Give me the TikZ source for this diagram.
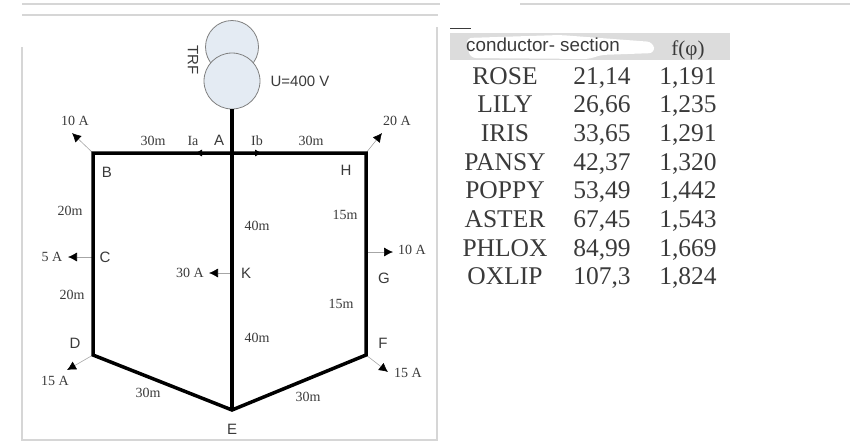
\documentclass[tikz,border=0pt]{standalone}
\usepackage{fontspec}
\setmainfont{Liberation Serif}
\setsansfont{Liberation Sans}
\usetikzlibrary{arrows.meta}
\definecolor{inkgrey}{HTML}{3A3A3A}
\definecolor{framegrey}{HTML}{D6D6D6}
\definecolor{bandgrey}{HTML}{DCDCDC}
\definecolor{trfblue}{HTML}{E4EBF3}
\tikzset{
    wire/.style={line width=3.5pt, black, line join=miter},
    load/.style={draw=gray!70, line width=.6pt, -{Latex[black,length=9pt,width=9pt]}},
    flow/.style={black, line width=.6pt, -{Latex[length=7pt,width=7pt]}},
    frameline/.style={framegrey, line width=1.2pt},
    trfcircle/.style={circle, draw=gray, line width=.8pt, fill=trfblue, minimum size=54pt, inner sep=0pt},
    pointlabel/.style={font=\sffamily\fontsize{15}{15}\selectfont, text=inkgrey, inner sep=0pt},
    lengthlabel/.style={font=\fontsize{14}{14}\selectfont, text=inkgrey, inner sep=0pt},
    rowlabel/.style={font=\fontsize{25.5}{25.5}\selectfont, text=inkgrey, inner sep=0pt, anchor=center, text height=16pt, text depth=0pt},
}
\begin{document}
\begin{tikzpicture}[x=1pt,y=1pt]
            \useasboundingbox (0,0) rectangle (850,-445);

            % frame and table band
            \draw [frameline] (22,-4) -- (440,-4);
            \draw [frameline] (520,-4) -- (850,-4);
            \draw [frameline] (22,-15) -- (438,-15);
            \draw [frameline] (22,-47) -- (22,-440) -- (437,-440) -- (437,-27);
            \draw [inkgrey, line width=.6pt] (450,-28) -- (471,-28);
            \fill [bandgrey] (450,-33) rectangle (730,-60);
            \fill [white, rounded corners=6pt] (466,-38) -- (560,-35) -- (653,-42) -- (655,-53) -- (600,-55) -- (590,-59) -- (470,-58) -- cycle;

            % junctions
            \node (A) [coordinate] at (232,-153) {};
            \node (B) [coordinate, node distance=139pt, left of=A] {};
            \node (H) [coordinate, node distance=134pt, right of=A] {};
            \node (C) [coordinate, node distance=104pt, below of=B] {};
            \node (D) [coordinate, node distance=202pt, below of=B] {};
            \node (E) [coordinate, node distance=257pt, below of=A] {};
            \node (F) [coordinate, node distance=202pt, below of=H] {};
            \node (G) [coordinate, node distance=99pt, below of=H] {};
            \node (K) [coordinate, node distance=120pt, below of=A] {};
            \node (Ia) [coordinate, node distance=37pt, left of=A] {};
            \node (Ib) [coordinate, node distance=30pt, right of=A] {};

            % transformer
            \node (trfback) [trfcircle, minimum size=53pt] at (232,-47) {};
            \node (trf) [trfcircle, minimum size=56pt] at (232,-81) {};
            \node (trflabel) [pointlabel, rotate=-90] at (193,-60) {TRF};
            \node (ulabel) [pointlabel, node distance=68pt, right of=trf] {U=400 V};

            % loads
            \node (Bload) [coordinate] at (72,-133) {};
            \node (Hload) [coordinate] at (382,-133) {};
            \node (Cload) [coordinate, node distance=25pt, left of=C] {};
            \node (Kload) [coordinate, node distance=23pt, left of=K] {};
            \node (Gload) [coordinate, node distance=27pt, right of=G] {};
            \node (Dload) [coordinate] at (67,-370) {};
            \node (Fload) [coordinate] at (388,-372) {};

            \draw [load] (B) -- (Bload);
            \draw [load] (H) -- (Hload);
            \draw [load] (C) -- (Cload);
            \draw [load] (K) -- (Kload);
            \draw [load] (G) -- (Gload);
            \draw [load] (D) -- (Dload);
            \draw [load] (F) -- (Fload);

            \draw [wire] (A) -- (B) -- (C) -- (D) -- (E) -- (F) -- (G) -- (H) -- cycle;
            \draw [wire] (trf) -- (A) -- (K) -- (E);
            \draw [flow] (A) -- (Ia);
            \draw [flow] (A) -- (Ib);

            % point labels
            \node (Alabel) [pointlabel, node distance=13pt, left of=A, yshift=13pt] {A};
            \node (Blabel) [pointlabel, node distance=14pt, right of=B, yshift=-19pt] {B};
            \node (Clabel) [pointlabel, node distance=12pt, right of=C] {C};
            \node (Dlabel) [pointlabel, node distance=18pt, left of=D, yshift=12pt] {D};
            \node (Elabel) [pointlabel, node distance=19pt, below of=E] {E};
            \node (Flabel) [pointlabel, node distance=17pt, right of=F, yshift=12pt] {F};
            \node (Glabel) [pointlabel, node distance=18pt, right of=G, yshift=-26pt] {G};
            \node (Hlabel) [pointlabel, node distance=20pt, left of=H, yshift=-17pt] {H};
            \node (Klabel) [pointlabel, node distance=14pt, right of=K] {K};

            % load labels
            \node (Bamp) [lengthlabel, node distance=32pt, above of=B, xshift=-18pt] {10 A};
            \node (Hamp) [lengthlabel, node distance=32pt, above of=H, xshift=31pt] {20 A};
            \node (Camp) [lengthlabel, node distance=41pt, left of=C] {5 A};
            \node (Kamp) [lengthlabel, node distance=42pt, left of=K] {30 A};
            \node (Gamp) [lengthlabel, node distance=46pt, right of=G, yshift=2pt] {10 A};
            \node (Damp) [lengthlabel, node distance=38pt, left of=D, yshift=-26pt] {15 A};
            \node (Famp) [lengthlabel, node distance=42pt, right of=F, yshift=-18pt] {15 A};

            % line lengths
            \node (BAlen) [lengthlabel, node distance=79pt, left of=A, yshift=12pt] {30m};
            \node (Ialabel) [lengthlabel, node distance=39pt, left of=A, yshift=12pt] {Ia};
            \node (Iblabel) [lengthlabel, node distance=25pt, right of=A, yshift=12pt] {Ib};
            \node (AHlen) [lengthlabel, node distance=79pt, right of=A, yshift=12pt] {30m};
            \node (BClen) [lengthlabel, node distance=23pt, left of=B, yshift=-58pt] {20m};
            \node (CDlen) [lengthlabel, node distance=21pt, left of=C, yshift=-38pt] {20m};
            \node (AKlen) [lengthlabel, node distance=25pt, right of=A, yshift=-73pt] {40m};
            \node (KElen) [lengthlabel, node distance=25pt, right of=K, yshift=-65pt] {40m};
            \node (HGlen) [lengthlabel, node distance=21pt, left of=H, yshift=-62pt] {15m};
            \node (GFlen) [lengthlabel, node distance=25pt, left of=G, yshift=-52pt] {15m};
            \node (DElen) [lengthlabel, node distance=84pt, left of=E, yshift=17pt] {30m};
            \node (EFlen) [lengthlabel, node distance=76pt, right of=E, yshift=13pt] {30m};

            % table
            \node (head) [font=\sffamily\fontsize{18.8}{18.8}\selectfont, text=inkgrey, inner sep=0pt] at (543,-45) {conductor- section};
            \node (rose) [rowlabel] at (505,-76) {ROSE};
            \node (lily) [rowlabel, node distance=28.7pt, below of=rose] {LILY};
            \node (iris) [rowlabel, node distance=28.7pt, below of=lily] {IRIS};
            \node (pansy) [rowlabel, node distance=28.7pt, below of=iris] {PANSY};
            \node (poppy) [rowlabel, node distance=28.7pt, below of=pansy] {POPPY};
            \node (aster) [rowlabel, node distance=28.7pt, below of=poppy] {ASTER};
            \node (phlox) [rowlabel, node distance=28.7pt, below of=aster] {PHLOX};
            \node (oxlip) [rowlabel, node distance=28.7pt, below of=phlox] {OXLIP};

            \node (rosesec) [rowlabel, node distance=97pt, right of=rose] {21,14};
            \node (lilysec) [rowlabel, node distance=97pt, right of=lily] {26,66};
            \node (irissec) [rowlabel, node distance=97pt, right of=iris] {33,65};
            \node (pansysec) [rowlabel, node distance=97pt, right of=pansy] {42,37};
            \node (poppysec) [rowlabel, node distance=97pt, right of=poppy] {53,49};
            \node (astersec) [rowlabel, node distance=97pt, right of=aster] {67,45};
            \node (phloxsec) [rowlabel, node distance=97pt, right of=phlox] {84,99};
            \node (oxlipsec) [rowlabel, node distance=97pt, right of=oxlip] {107,3};

            \node (rosef) [rowlabel, node distance=86pt, right of=rosesec] {1,191};
            \node (lilyf) [rowlabel, node distance=86pt, right of=lilysec] {1,235};
            \node (irisf) [rowlabel, node distance=86pt, right of=irissec] {1,291};
            \node (pansyf) [rowlabel, node distance=86pt, right of=pansysec] {1,320};
            \node (poppyf) [rowlabel, node distance=86pt, right of=poppysec] {1,442};
            \node (asterf) [rowlabel, node distance=86pt, right of=astersec] {1,543};
            \node (phloxf) [rowlabel, node distance=86pt, right of=phloxsec] {1,669};
            \node (oxlipf) [rowlabel, node distance=86pt, right of=oxlipsec] {1,824};
            \node (headf) [rowlabel, font=\fontsize{21}{21}\selectfont, node distance=29pt, above of=rosef] {f(φ)};
        \end{tikzpicture}
\end{document}
